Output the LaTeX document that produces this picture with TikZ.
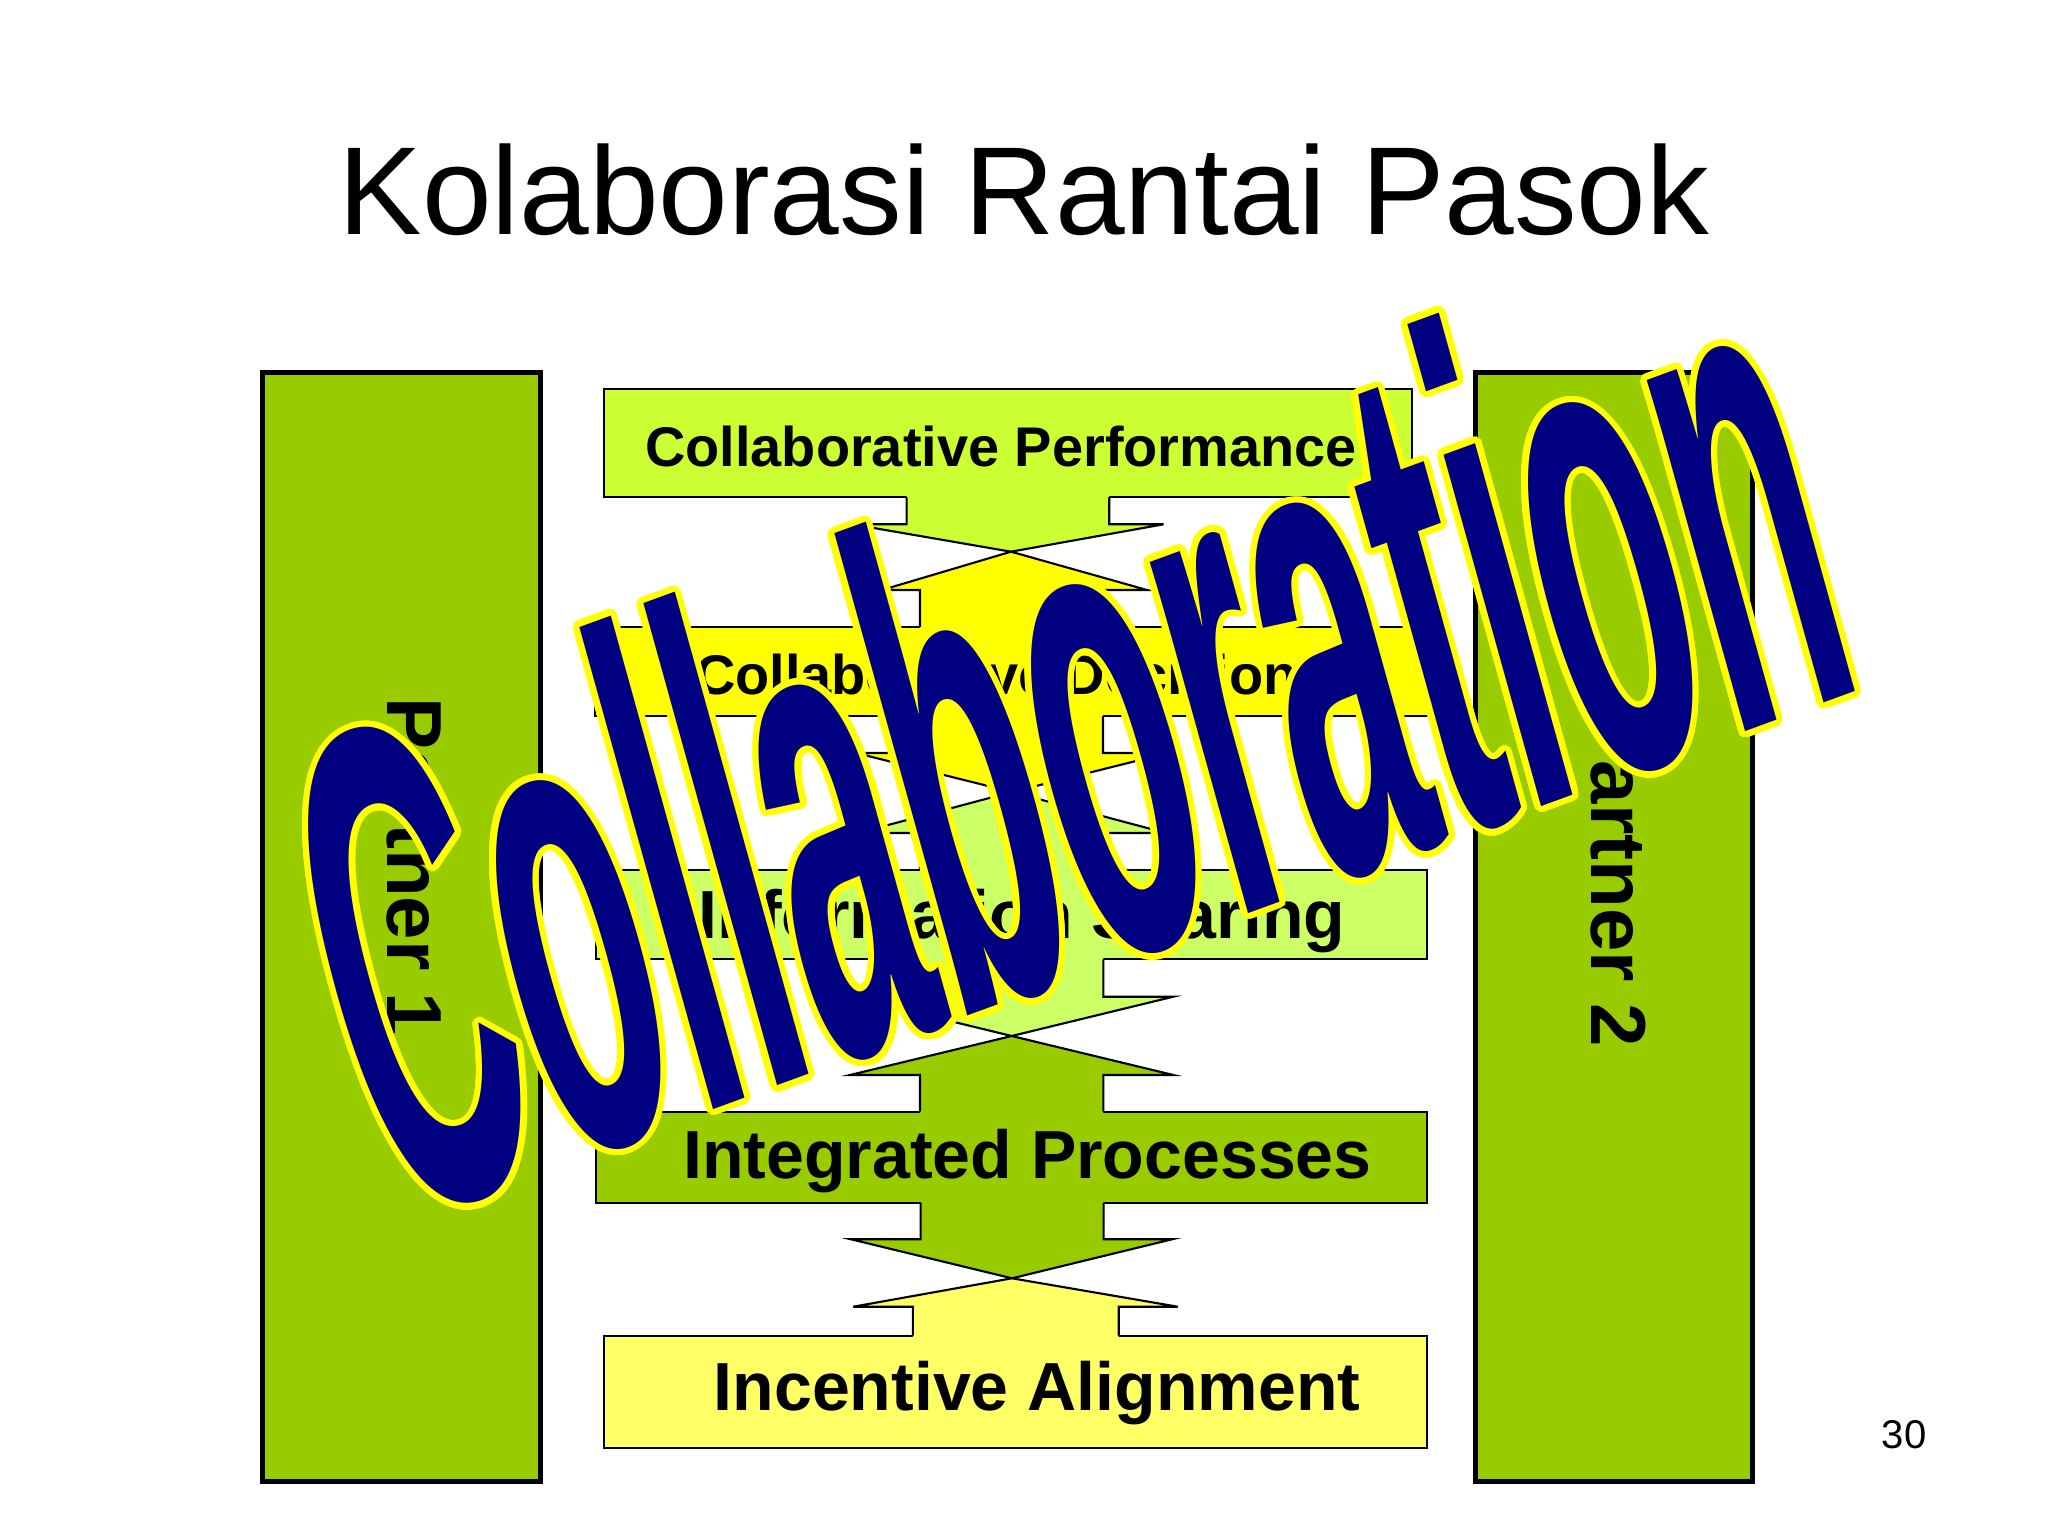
\documentclass[tikz,border=0pt]{standalone}
\usepackage{fontspec}
\setmainfont{Liberation Sans}
\definecolor{cpfill}{HTML}{CCFF33}
\definecolor{cdfill}{HTML}{FFFF00}
\definecolor{isfill}{HTML}{CCFF66}
\definecolor{ipfill}{HTML}{99CC00}
\definecolor{iafill}{HTML}{FFFF66}
\definecolor{wanavy}{HTML}{000080}
\definecolor{wayellow}{HTML}{FFFF00}
\newcommand{\mytitlefont}{\fontsize{35.6pt}{42pt}\selectfont}
\newcommand{\mysmallbold}{\fontsize{15.9pt}{18pt}\selectfont\bfseries}
\newcommand{\mybigbold}{\fontsize{19.35pt}{22pt}\selectfont\bfseries}
\newcommand{\mypartnerfont}{\fontsize{22.2pt}{26pt}\selectfont\bfseries}
\newcommand{\mypagefont}{\fontsize{11.4pt}{13pt}\selectfont}
\newcommand{\mywafont}{\fontsize{28.4528pt}{30pt}\selectfont\bfseries}
% down block arrow: colour, ybox, stemL, stemR, yhead, headL, headR, tipx, tipy
\newcommand{\dnarr}[9]{%
  \fill[#1] (#3,{#2-2}) -- (#3,#5) -- (#6,#5) -- (#8,#9) -- (#7,#5) -- (#4,#5) -- (#4,{#2-2}) -- cycle;
  \draw[arrline] (#3,#2) -- (#3,#5) -- (#6,#5) -- (#8,#9) -- (#7,#5) -- (#4,#5) -- (#4,#2);
}
\newcommand{\uparr}[9]{%
  \fill[#1] (#3,{#2+2}) -- (#3,#5) -- (#6,#5) -- (#8,#9) -- (#7,#5) -- (#4,#5) -- (#4,{#2+2}) -- cycle;
  \draw[arrline] (#3,#2) -- (#3,#5) -- (#6,#5) -- (#8,#9) -- (#7,#5) -- (#4,#5) -- (#4,#2);
}
\begin{document}
\begin{tikzpicture}[x=0.01cm,y=-0.01cm,line join=miter,
  box/.style={draw=black, line width=0.6pt, inner sep=0pt, outer sep=0pt},
  partnerbox/.style={draw=black, line width=1.4pt, fill=ipfill, inner sep=0pt, outer sep=0pt},
  arrline/.style={draw=black, line width=0.6pt},
  lbl/.style={anchor=base, inner sep=0pt, text=black},
  wa/.style={cm={2.2914,0.8385,-1.8437,6.649,(0,0)}, transform shape, anchor=base west, inner sep=0pt, outer sep=0pt, font=\mywafont}]
\fill[white] (0,0) rectangle (2048,1534);
\useasboundingbox (0,0) rectangle (2048,1534);

% title
\node[lbl, font=\mytitlefont] (title) at (1024,235) {Kolaborasi Rantai Pasok};

% partner boxes
\node[partnerbox, minimum width=2.77cm, minimum height=11.08cm] (p1) at (401.5,927) {};
\node[partnerbox, minimum width=2.76cm, minimum height=11.08cm] (p2) at (1614,927) {};
\node[rotate=-90, font=\mypartnerfont, inner sep=0pt] (p1t) at (414,866.5) {Partner 1};
\node[rotate=-90, font=\mypartnerfont, inner sep=0pt] (p2t) at (1618.5,878) {Partner 2};

% central boxes
\node[box, fill=cpfill, minimum width=8.08cm, minimum height=1.083cm] (cp) at (1008,443.15) {};
\node[box, fill=cdfill, minimum width=8.33cm, minimum height=0.89cm] (cd) at (1011.5,671.5) {};
\node[box, fill=isfill, minimum width=8.31cm, minimum height=0.893cm] (is) at (1011.5,914.65) {};
\node[box, fill=ipfill, minimum width=8.31cm, minimum height=0.91cm] (ip) at (1011.5,1157.2) {};
\node[box, fill=iafill, minimum width=8.23cm, minimum height=1.126cm] (ia) at (1015.5,1392) {};

% block arrows meeting tip to tip
\dnarr{cpfill}{497.3}{906.6}{1109.2}{524.3}{852.2}{1163.6}{1011}{551.7}
\uparr{cdfill}{627}{920}{1104}{590}{882}{1147}{1011}{551.7}
\dnarr{cdfill}{716}{920}{1103}{753}{856}{1168}{1012}{792}
\uparr{isfill}{870}{920}{1103}{833}{858}{1166}{1012}{792}
\dnarr{isfill}{959.3}{920}{1103.3}{996.7}{850}{1173.3}{1011.7}{1036}
\uparr{ipfill}{1111.7}{920}{1103.3}{1075}{850}{1173.3}{1011.7}{1036}
\dnarr{ipfill}{1202.7}{920.6}{1103.6}{1239.3}{851}{1172}{1012}{1278.3}
\uparr{iafill}{1335.7}{912.8}{1118.7}{1306.7}{853.3}{1177.7}{1012}{1278.3}

% box labels
\node[lbl, font=\mysmallbold] (cpt) at (1001,467) {Collaborative Performance};
\node[lbl, font=\mysmallbold] (cdt) at (1012,695) {Collaborative Decisions};
\node[lbl, font=\mybigbold] (ist) at (1022,938.3) {Information Sharing};
\node[lbl, font=\mybigbold] (ipt) at (1027.5,1178.3) {Integrated Processes};
\node[lbl, font=\mybigbold] (iat) at (1037,1410) {Incentive Alignment};

% page number
\node[lbl, font=\mypagefont] (pg) at (1904,1448) {30};

% WordArt
\def\wax{391.7}\def\way{1226.9}
\foreach \ang in {0,15,...,345}{
  \begin{scope}[shift={({\wax+6.5*cos(\ang)},{\way+6.5*sin(\ang)})}]
    \node[wa, text=wayellow] at (0,0) {Collaboration};
  \end{scope}
}
\begin{scope}[shift={(\wax,\way)}]
  \node[wa, text=wanavy] (collab) at (0,0) {Collaboration};
\end{scope}
\end{tikzpicture}
\end{document}
